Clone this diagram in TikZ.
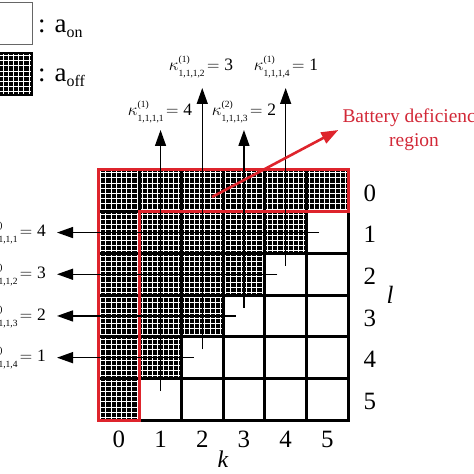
\documentclass[tikz,border=0pt]{standalone}
\usepackage{amsmath}
\usepackage{fontspec}
\setmainfont{Liberation Serif}
\usetikzlibrary{arrows.meta}
\definecolor{redline}{RGB}{222,36,44}
\definecolor{redtext}{RGB}{210,40,55}
\newcommand{\legsub}[1]{\raisebox{-5bp}{\fontsize{16}{18}\selectfont #1}}
\newcommand{\smallidx}[1]{\hbox{\fontsize{9.5}{11}\selectfont #1}}
\newcommand{\kp}[3]{$\kappa^{\raisebox{1.5bp}{\smallidx{#1}}}_{\raisebox{-1.5bp}{\smallidx{#2}}}\mkern2mu{=}\mkern5mu\text{#3}$}
\begin{document}
\begin{tikzpicture}[x=1bp,y=-1bp,
  arr/.style={-{Triangle[length=16bp,width=11bp]}, line width=1.4bp},
  redarr/.style={-{Triangle[length=17bp,width=12bp]}, line width=2.6bp, draw=redline},
  kap/.style={font=\fontsize{17.5}{20}\selectfont, inner sep=0pt},
  axis/.style={font=\fontsize{25}{30}\selectfont, inner sep=0pt},
  legtext/.style={font=\fontsize{27}{32}\selectfont, inner sep=0pt, anchor=base west},
  gridline/.style={line width=2.8bp, line cap=rect},
  fineline/.style={white, line width=1.0bp},
]
\useasboundingbox (0,0) rectangle (474,474);
\clip (0,0) rectangle (474,474);

% ---- legend ----
\draw[line width=1bp, black!60] (-10,3) rectangle (32,45);
\begin{scope}
  \clip (-10,53) rectangle (32,95);
  \fill[black] (-10,53) rectangle (32,95);
  \foreach \j in {0,...,7} {
    \draw[fineline] ({-10+(\j+0.5)*5.2},53) -- ({-10+(\j+0.5)*5.2},95);
    \draw[fineline] (-10,{53+(\j+0.5)*5.2}) -- (32,{53+(\j+0.5)*5.2});
  }
\end{scope}
\draw[line width=1.5bp, black] (-10,53) rectangle (32,95);
\node[legtext] (lon) at (38,33) {: a\legsub{on}};
\node[legtext] (loff) at (38,82) {: a\legsub{off}};

% ---- grid ----
\begin{scope}[shift={(98,170)}, x=41.7bp, y=-41.7bp]
  \begin{scope}
    \clip (0,0) -| (6,1) -| (5,2) -| (4,3) -| (3,4) -| (2,5) -| (1,6) -| (0,0);
    \fill[black] (0,0) rectangle (6,6);
    \foreach \j in {0,...,47} {
      \draw[fineline] ({(\j+0.5)/8},0) -- ({(\j+0.5)/8},6);
      \draw[fineline] (0,{(\j+0.5)/8}) -- (6,{(\j+0.5)/8});
    }
  \end{scope}
  \foreach \i in {0,...,6} {
    \draw[gridline] (\i,0) -- (\i,6);
    \draw[gridline] (0,\i) -- (6,\i);
  }
  \draw[redline, line width=3bp] (0,0) -- (6,0) -- (6,1) -- (1,1) -- (1,6) -- (0,6) -- cycle;
  % arrow start points
  \coordinate (v1) at (1.5,5.3);
  \coordinate (v2) at (2.5,4.3);
  \coordinate (v3) at (3.5,3.3);
  \coordinate (v4) at (4.5,2.3);
  \coordinate (h1) at (5.3,1.5);
  \coordinate (h2) at (4.3,2.5);
  \coordinate (h3) at (3.3,3.5);
  \coordinate (h4) at (2.3,4.5);
  % axis labels
  \foreach \k in {0,...,5} {
    \node[axis] (c\k) at ({\k+0.5},6.46) {\k};
    \node[axis] (r\k) at (6.52,{\k+0.55}) {\k};
  }
\end{scope}
\node[axis, font=\fontsize{24}{28}\selectfont\itshape] (kax) at (223,459) {k};
\node[axis, font=\fontsize{25}{30}\selectfont\itshape] (lax) at (390,295) {l};

% ---- arrow tips ----
\coordinate (vt1) at (0,130);
\coordinate (vt2) at (0,88);
\coordinate (vt3) at (0,130);
\coordinate (vt4) at (0,88);
\coordinate (ht) at (57,0);
\foreach \i in {1,...,4} {
  \draw[arr] (v\i) -- (v\i |- vt\i);
  \draw[arr] (h\i) -- (ht |- h\i);
}

% ---- kappa labels ----
\node[kap] (kt1) at (160,112) {\kp{(1)}{1,1,1,1}{4}};
\node[kap] (kt2) at (201,67) {\kp{(1)}{1,1,1,2}{3}};
\node[kap] (kt3) at (244,112) {\kp{(2)}{1,1,1,3}{2}};
\node[kap] (kt4) at (286,67) {\kp{(1)}{1,1,1,4}{1}};
\node[kap, anchor=east] (kl1) at (46,233) {\kp{(2)}{1,1,1,1}{4}};
\node[kap, anchor=east] (kl2) at (46,275) {\kp{(2)}{1,1,1,2}{3}};
\node[kap, anchor=east] (kl3) at (46,317) {\kp{(2)}{1,1,1,3}{2}};
\node[kap, anchor=east] (kl4) at (46,358) {\kp{(2)}{1,1,1,4}{1}};

% ---- battery deficiency ----
\node[font=\fontsize{19.5}{24}\selectfont, text=redtext, align=center, inner sep=0pt] (bdr) at (414,130) {Battery deficiency\\region};
\coordinate (rs) at (212,197);
\draw[redarr] (rs) -- ([xshift=-4bp]bdr.west);
\end{tikzpicture}
\end{document}
